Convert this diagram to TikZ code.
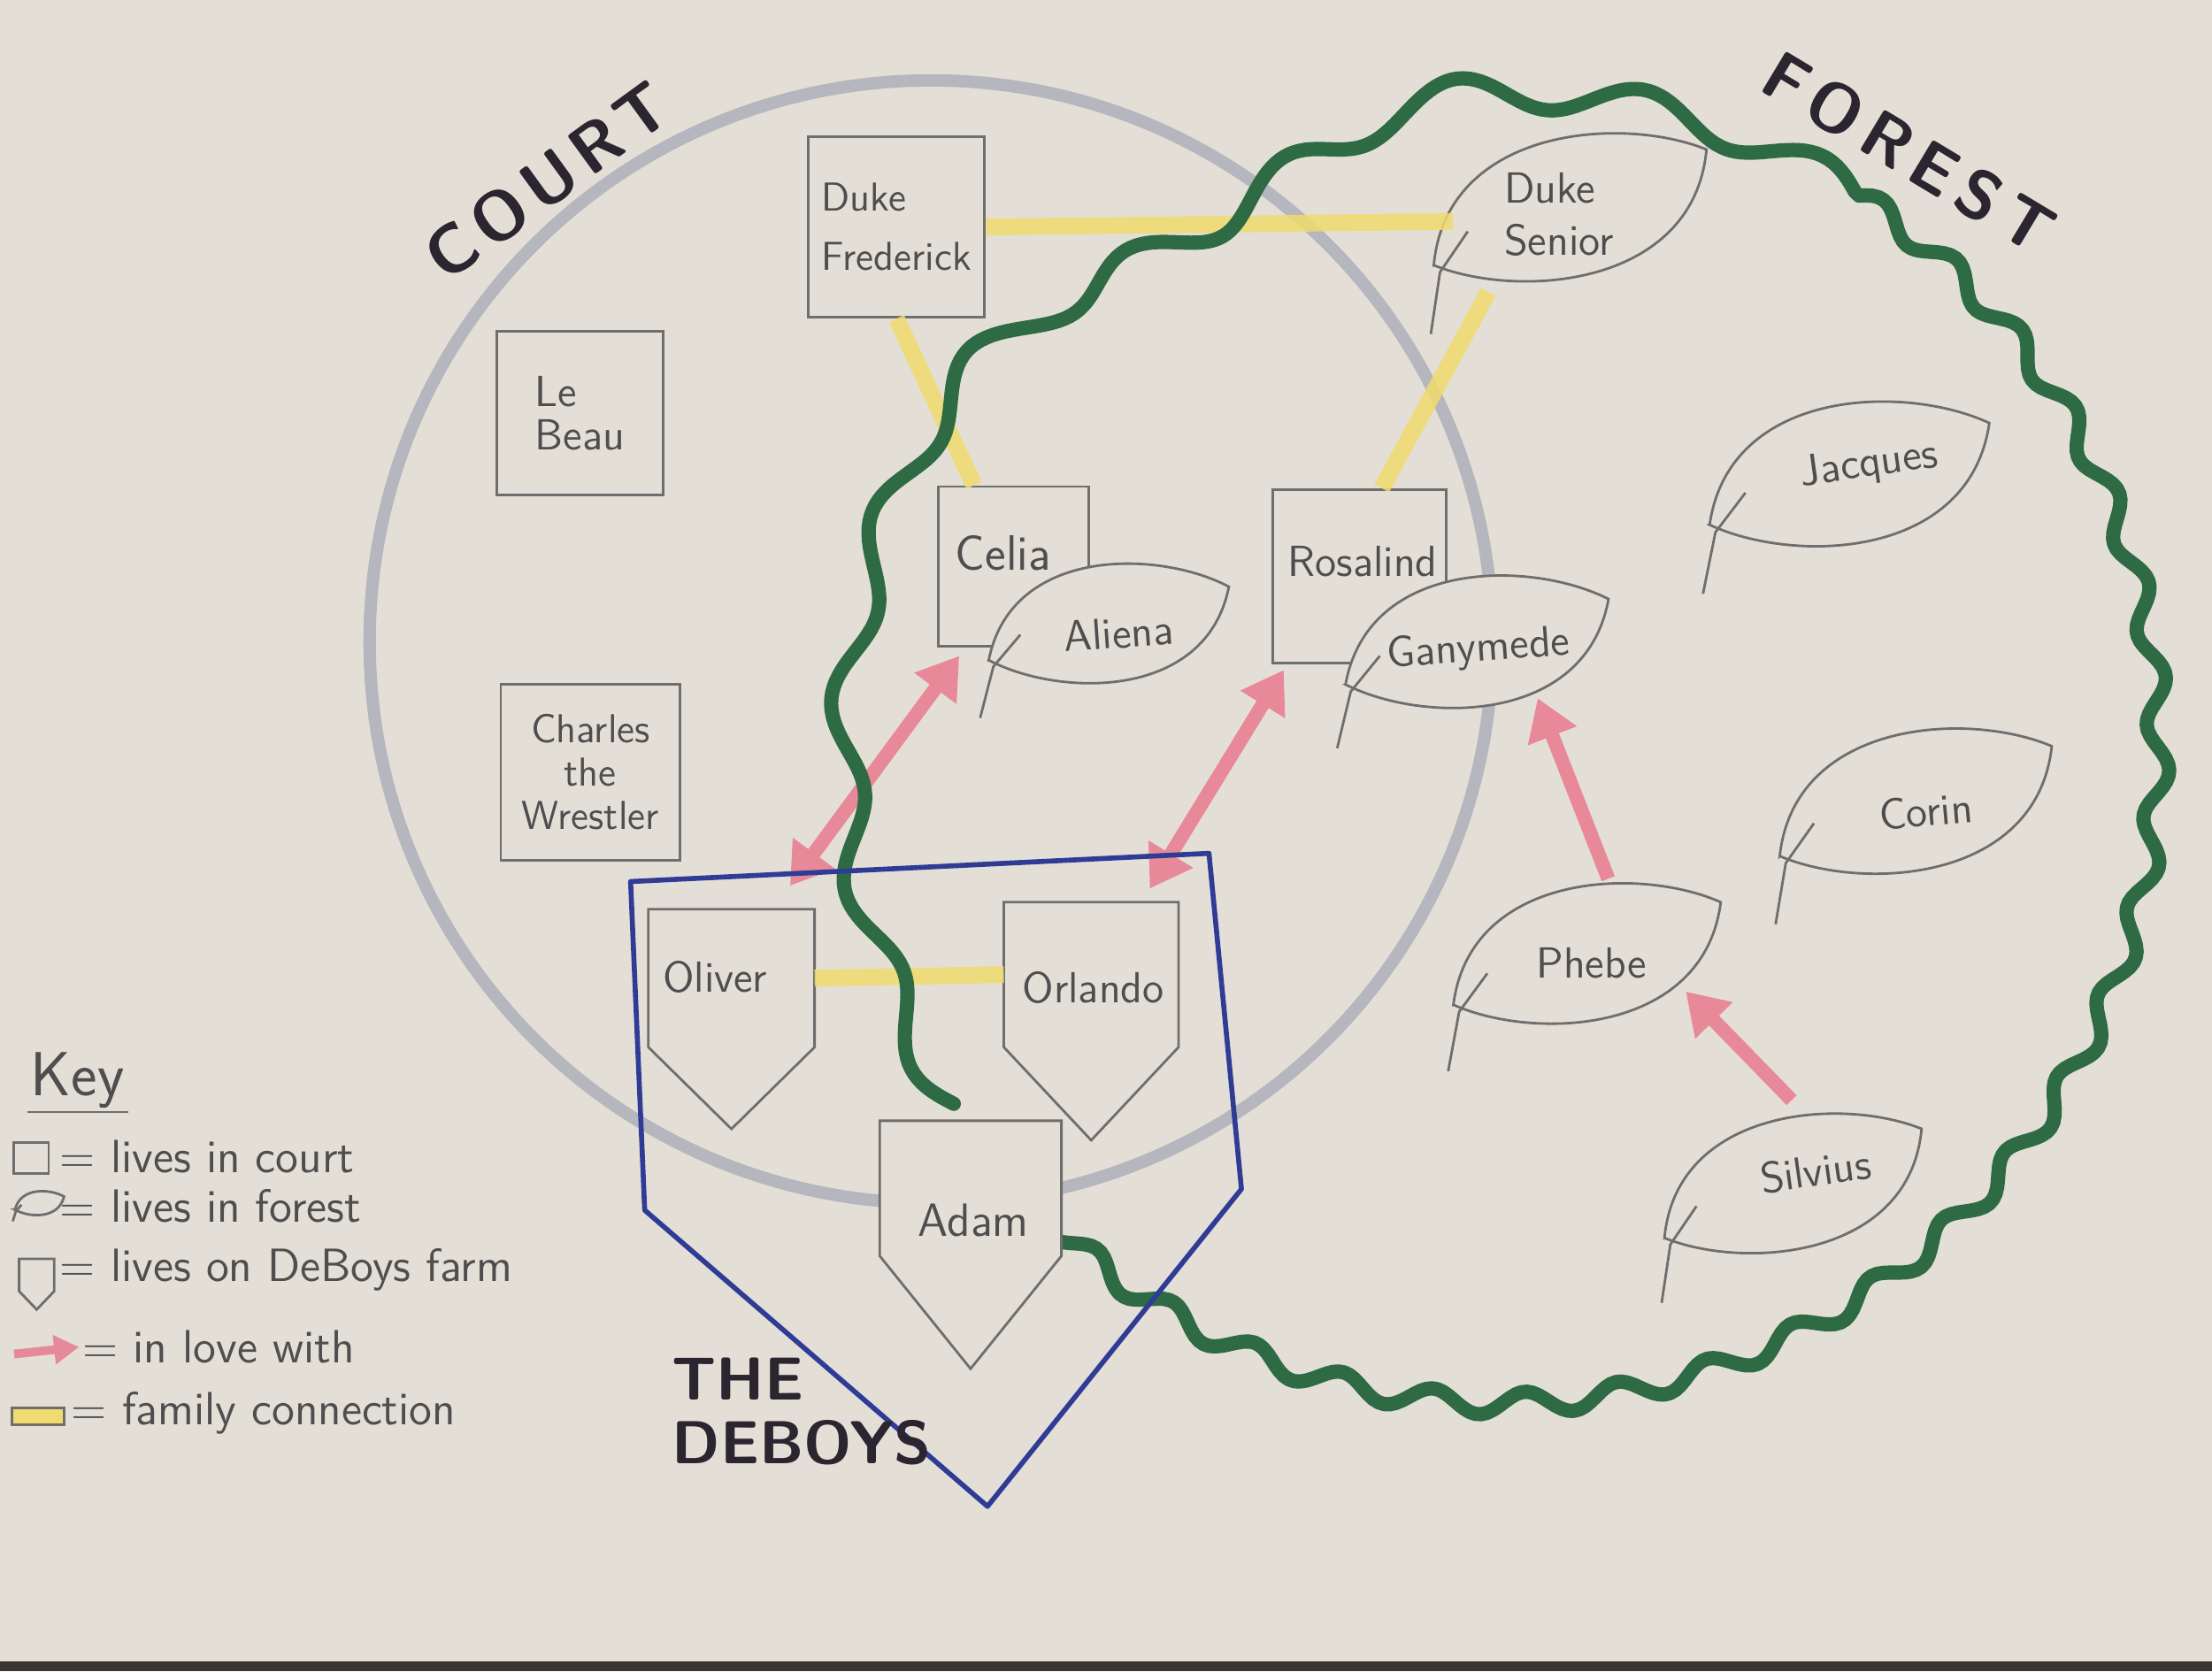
\documentclass[tikz,border=0pt]{standalone}
\usepackage{tikz}
\usetikzlibrary{
    arrows.meta,
    calc,
    positioning,
    shapes.geometric
}

\definecolor{paper}{HTML}{E4DFD6}
\definecolor{pencilgray}{HTML}{6E6E6E}
\definecolor{pencilink}{HTML}{4E4E4E}
\definecolor{courtgray}{HTML}{B6B6BE}
\definecolor{forestgreen}{HTML}{2E6B45}
\definecolor{deboysblue}{HTML}{2F3C96}
\definecolor{familyyellow}{HTML}{F0DB6E}
\definecolor{lovepink}{HTML}{E8899A}
\definecolor{headink}{HTML}{2B2530}
\definecolor{tablebrown}{HTML}{3A3530}

% one pixel of the sketch
\newcommand{\pxu}{0.4535pt}
\newcommand{\namefont}{\sffamily\fontsize{13}{15}\selectfont}
\newcommand{\leaffont}{\sffamily\fontsize{14}{17}\selectfont}
\newcommand{\keyfont}{\sffamily\fontsize{15}{17}\selectfont}
\newcommand{\headfont}{\sffamily\bfseries\fontsize{22}{22}\selectfont}

\tikzset{
    pencil/.style={draw=pencilgray, line width=0.8pt},
    courtbox/.style={pencil, fill=paper, rectangle, inner sep=2pt, align=left, font=\namefont, text=pencilink},
    nametext/.style={font=\namefont, text=pencilink, inner sep=1pt},
    leaftext/.style={font=\leaffont, text=pencilink, inner sep=1pt},
    keytext/.style={font=\keyfont, text=pencilink, anchor=west, inner sep=1pt},
    leafbase/.style={ellipse, inner sep=0pt},
    platebase/.style={rectangle, inner sep=0pt},
    family/.style={draw=familyyellow, line width=5.4pt, draw opacity=0.85},
    love/.style={draw=lovepink, line width=4.5pt, -{Triangle[length=13pt,width=16pt]}},
    lovetwo/.style={love, {Triangle[length=13pt,width=16pt]}-{Triangle[length=13pt,width=16pt]}},
    courtline/.style={draw=courtgray, line width=4pt},
    forestline/.style={draw=forestgreen, line width=4.6pt, line cap=round, line join=round},
    deboysline/.style={draw=deboysblue, line width=1.6pt, line join=round},
    heading/.style={font=\headfont, text=headink, inner sep=0pt}
}

% leaf outline: name, centre, tilt, length
\newcommand{\leafshape}[4]{%
    \begin{scope}[shift={(#2)}, rotate=#3]
        \draw[pencil, fill=paper]
            (-0.5*#4,0) .. controls (-0.28*#4,-0.41*#4) and (0.28*#4,-0.22*#4) .. (0.5*#4,0)
            .. controls (0.28*#4,0.41*#4) and (-0.28*#4,0.22*#4) .. cycle;
        \draw[pencil] (-0.35*#4,-0.06*#4) -- (-0.49*#4,0.03*#4) -- (-0.6*#4,0.21*#4);
        \node[leafbase, transform shape, minimum width=#4*\pxu, minimum height=0.47*#4*\pxu] (#1) at (0,0) {};
    \end{scope}
}

% home plate outline: name, centre of square part, width, height, tip depth
\newcommand{\platenode}[5]{%
    \node[platebase, minimum width=#3*\pxu, minimum height=#4*\pxu] (#1) at (#2) {};
    \draw[pencil, fill=paper] (#1.north west) -- (#1.north east) -- (#1.south east)
        -- ($(#1.south)+(0,#5)$) -- (#1.south west) -- cycle;
}

\begin{document}
\begin{tikzpicture}[x=0.01594cm, y=-0.01594cm,
    declare function={forestr(\q)=465+ifthenelse(\q<-57.27, 12*sin(22*\q), 8*sin(44*\q))
        -ifthenelse(abs(\q+120)<30, 20*(1+cos(6*(\q+120))), 0);}]
    \useasboundingbox (0,0) rectangle (1568,1185);
    \fill[paper] (0,0) rectangle (1568,1185);
    \fill[tablebrown] (0,1178) rectangle (1568,1185);

    % court
    \draw[courtline] (660,455) circle[radius=398];
    \node[heading, rotate=36] (courtlabel) at (388,128) {C\kern2.5pt O\kern2.5pt U\kern2.5pt R\kern2.5pt T};

    \node[courtbox, minimum width=125*\pxu, minimum height=128*\pxu, font=\sffamily\fontsize{13}{19}\selectfont] (dukeF) at (635.5,161) {Duke\\Frederick};
    \node[courtbox, minimum width=118*\pxu, minimum height=116*\pxu, font=\sffamily\fontsize{14}{14}\selectfont] (leBeau) at (411,293) {Le\\Beau};
    \node[courtbox, align=center, minimum width=127*\pxu, minimum height=125*\pxu, font=\sffamily\fontsize{13}{14}\selectfont] (charles) at (418.5,547.5) {Charles\\the\\Wrestler};
    \node[courtbox, minimum width=107*\pxu, minimum height=113*\pxu] (celia) at (718.5,401.5) {};
    \node[nametext, font=\sffamily\fontsize{16}{18}\selectfont] (celia-label) at (711,392) {Celia};
    \node[courtbox, minimum width=123*\pxu, minimum height=123*\pxu] (rosalind) at (963.5,408.5) {};
    \node[nametext, font=\sffamily\fontsize{14}{16}\selectfont] (rosalind-label) at (966,398) {Rosalind};

    % forest folk
    \leafshape{aliena}{786,442}{17}{178}
    \node[leaftext, rotate=4] (aliena-label) at (793,449) {Aliena};
    \leafshape{ganymede}{1047,455}{18}{196}
    \node[leaftext, rotate=4] (ganymede-label) at (1048,461) {Ganymede};
    \leafshape{dukeS}{1113,147}{23}{210}
    \node[leaftext, align=left] (dukeS-label) at (1105,152) {Duke\\Senior};
    \leafshape{jacques}{1311,336}{20}{211}
    \node[leaftext, rotate=8] (jacques-label) at (1325,330) {Jacques};
    \leafshape{corin}{1358,568}{22}{208}
    \node[leaftext, rotate=5] (corin-label) at (1365,575) {Corin};
    \leafshape{phebe}{1125,676}{21}{203}
    \node[leaftext] (phebe-label) at (1128,683) {Phebe};
    \leafshape{silvius}{1271,839}{23}{198}
    \node[leaftext, rotate=8] (silvius-label) at (1287,830) {Silvius};

    % DeBoys farm
    \platenode{oliver}{518.5,693.5}{117}{97}{58}
    \node[nametext, font=\sffamily\fontsize{14}{16}\selectfont] (oliver-label) at (507,693) {Oliver};
    \platenode{orlando}{773.5,691}{123}{102}{66}
    \node[nametext, font=\sffamily\fontsize{14}{16}\selectfont] (orlando-label) at (775,700) {Orlando};

    % family connections
    \draw[family] (dukeF.east) -- ($(dukeS)+(-83,10)$);
    \draw[family] (dukeF.south) -- ($(celia.north)+(-28,0)$);
    \draw[family] ($(dukeS)+(-58,60)$) -- ($(rosalind.north)+(16,0)$);
    \draw[family] (oliver.east) -- (orlando.west);

    % in love with
    \draw[lovetwo] ($(oliver)+(41.5,-65.5)$) -- ($(celia)+(-38.5,63.5)$);
    \draw[lovetwo] ($(orlando)+(41.5,-61)$) -- ($(rosalind)+(-53.5,66.5)$);
    \draw[love] ($(phebe)+(15,-53)$) -- ($(ganymede)+(43,40)$);
    \draw[love] ($(silvius)+(-1,-59)$) -- ($(phebe)+(70,27)$);

    % forest edge
    \draw[forestline] plot[domain=-213:134, samples=700]
        ({1065+forestr(\x)*cos(\x)}, {530+forestr(\x)*sin(\x)});
    \node[heading, rotate=-31] (forestlabel) at (1353,108) {F\kern3pt O\kern3pt R\kern3pt E\kern3pt S\kern3pt T};

    % the DeBoys
    \draw[deboysline] (447,625) -- (857,605) -- (880,843) -- (700,1068) -- (457,858) -- cycle;
    \node[heading, align=left, anchor=north west, font=\sffamily\bfseries\fontsize{19.5}{20.5}\selectfont] (deboyslabel) at (476,962) {THE\\DEBOYS};
    \platenode{adam}{688,842.5}{128}{95}{80}
    \node[nametext, font=\sffamily\fontsize{15}{17}\selectfont] (adam-label) at (690,865) {Adam};

    % key
    \node[nametext, font=\sffamily\fontsize{20}{20}\selectfont] (keytitle) at (55,766) {Key};
    \draw[pencil] (keytitle.south west) -- (keytitle.south east);
    \node[courtbox, minimum width=25*\pxu, minimum height=22*\pxu, inner sep=0pt] (keycourt) at (22,821) {};
    \node[keytext] (keycourt-text) at (40,820) {= lives in court};
    \leafshape{keyleaf}{28,853}{15}{36}
    \node[keytext] (keyleaf-text) at (40,855) {= lives in forest};
    \platenode{keyplate}{26,904}{24}{22}{13}
    \node[keytext] (keyplate-text) at (40,900) {= lives on DeBoys farm};
    \node[keytext] (keylove-text) at (56,955) {= in love with};
    \coordinate (keylove) at (10,960);
    \draw[draw=lovepink, line width=2.8pt, -{Triangle[length=8pt,width=9pt]}] (keylove) -- (keylove-text.west);
    \node[draw=pencilgray, line width=0.8pt, fill=familyyellow, minimum width=37*\pxu, minimum height=12*\pxu, inner sep=0pt] (keyfamily) at (27,1004) {};
    \node[keytext] (keyfamily-text) at (48,1002) {= family connection};
\end{tikzpicture}
\end{document}
